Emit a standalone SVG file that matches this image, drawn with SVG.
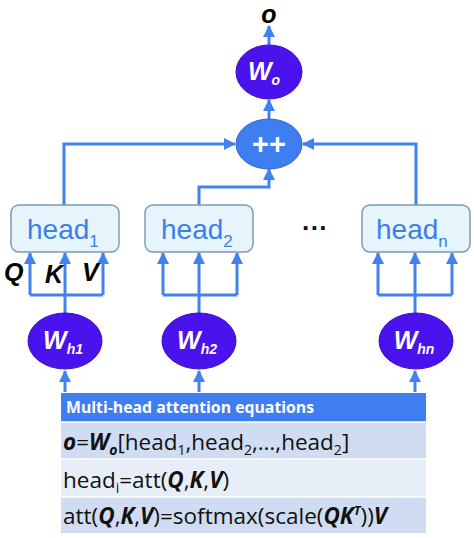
<svg xmlns="http://www.w3.org/2000/svg" width="474" height="538" viewBox="0 0 474 538">
<style>
.c{fill:none;stroke:#4282f0;stroke-width:3}
.hb{fill:#e6f4fb;stroke:#7f9bb0;stroke-width:1.5}
.ht{font-family:"Liberation Sans",Arial,sans-serif;font-size:28px;fill:#3d7fe6}
.hs{font-size:17px}
.pu{fill:#4a12ec;stroke:#3a10c0;stroke-width:1}
.bl{fill:#3f7ef0;stroke:#2d62c8;stroke-width:1}
.wt{font-family:"Liberation Sans",Arial,sans-serif;font-weight:bold;font-style:italic;fill:#fff}
.qkv{font-family:"Liberation Sans",Arial,sans-serif;font-weight:bold;font-style:italic;font-size:25px;fill:#000}
.tt{font-family:"Open Sans","Liberation Sans",sans-serif;font-size:22.5px;fill:#111}
.bi{font-weight:bold;font-style:italic}
</style>
<defs>
<marker id="a" markerUnits="userSpaceOnUse" markerWidth="12" markerHeight="12" viewBox="0 0 12 12" refX="11" refY="6" orient="auto">
<path d="M0,0 L12,6 L0,12 Z" fill="#4282f0"/>
</marker>
</defs>
<g id="connectors">
<path class="c" d="M269,45 V26" marker-end="url(#a)"/>
<path class="c" d="M269,119 V100" marker-end="url(#a)"/>
<path class="c" d="M64,205 V144 H235" marker-end="url(#a)"/>
<path class="c" d="M416,205 V144 H303" marker-end="url(#a)"/>
<path class="c" d="M199,205 V187 H269 V169" marker-end="url(#a)"/>
<path class="c" d="M65,313 V253" marker-end="url(#a)"/>
<path class="c" d="M30,295 H103"/>
<path class="c" d="M30,295 V253" marker-end="url(#a)"/>
<path class="c" d="M103,295 V253" marker-end="url(#a)"/>
<path class="c" d="M199,313 V253" marker-end="url(#a)"/>
<path class="c" d="M163,295 H237"/>
<path class="c" d="M163,295 V253" marker-end="url(#a)"/>
<path class="c" d="M237,295 V253" marker-end="url(#a)"/>
<path class="c" d="M415,313 V253" marker-end="url(#a)"/>
<path class="c" d="M378,295 H452"/>
<path class="c" d="M378,295 V253" marker-end="url(#a)"/>
<path class="c" d="M452,295 V253" marker-end="url(#a)"/>
<path class="c" d="M65,392 V371" marker-end="url(#a)"/>
<path class="c" d="M199,392 V371" marker-end="url(#a)"/>
<path class="c" d="M415,392 V371" marker-end="url(#a)"/>
</g>
<g id="output"><text x="269" y="23" text-anchor="middle" class="qkv" font-size="23">o</text></g>
<g id="Wo"><ellipse class="pu" cx="269" cy="72" rx="33" ry="27"/><text class="wt" x="264" y="80" text-anchor="middle" font-size="25">W<tspan font-size="14" dy="5">o</tspan></text></g>
<g id="concat"><ellipse class="bl" cx="269" cy="144" rx="33" ry="25"/><text x="269" y="154" text-anchor="middle" font-family="Liberation Sans,Arial,sans-serif" font-weight="bold" font-size="29" fill="#fff">++</text></g>
<g id="head1"><rect class="hb" x="11" y="205" width="108" height="47" rx="8"/><text class="ht" x="27" y="239">head<tspan class="hs" dy="8">1</tspan></text></g>
<g id="head2"><rect class="hb" x="145" y="205" width="108" height="47" rx="8"/><text class="ht" x="161" y="239">head<tspan class="hs" dy="8">2</tspan></text></g>
<g id="dots"><text x="315" y="237" text-anchor="middle" font-family="Liberation Sans,Arial,sans-serif" font-weight="bold" font-size="26" fill="#111">···</text></g>
<g id="headn"><rect class="hb" x="362" y="205" width="108" height="47" rx="8"/><text class="ht" x="376" y="239">head<tspan class="hs" dy="8">n</tspan></text></g>
<g id="qkv"><text class="qkv" x="4" y="281">Q</text><text class="qkv" x="45" y="283">K</text><text class="qkv" x="82" y="281">V</text></g>
<g id="Wh1"><ellipse class="pu" cx="65" cy="341" rx="37" ry="28"/><text class="wt" x="63" y="349" text-anchor="middle" font-size="25">W<tspan font-size="14" dy="5">h1</tspan></text></g>
<g id="Wh2"><ellipse class="pu" cx="199" cy="341" rx="37" ry="28"/><text class="wt" x="197" y="349" text-anchor="middle" font-size="25">W<tspan font-size="14" dy="5">h2</tspan></text></g>
<g id="Whn"><ellipse class="pu" cx="416" cy="341" rx="37" ry="28"/><text class="wt" x="414" y="349" text-anchor="middle" font-size="25">W<tspan font-size="14" dy="5">hn</tspan></text></g>
<g id="table">
<rect x="61" y="393" width="365" height="29" fill="#3f7ef0"/>
<rect x="61" y="422" width="365" height="37" fill="#cfdcf2"/>
<rect x="61" y="459" width="365" height="38" fill="#e8eef8"/>
<rect x="61" y="497" width="365" height="36" fill="#cfdcf2"/>
<line x1="61" y1="422" x2="426" y2="422" stroke="#fff" stroke-width="1.5"/>
<line x1="61" y1="459" x2="426" y2="459" stroke="#fff" stroke-width="1.5"/>
<line x1="61" y1="497" x2="426" y2="497" stroke="#fff" stroke-width="1.5"/>
<text x="66" y="413" font-family="Open Sans,Liberation Sans,sans-serif" font-weight="bold" font-size="15.8" fill="#fff">Multi-head attention equations</text>
<text class="tt" x="63" y="450"><tspan class="bi">o</tspan>=<tspan class="bi">W</tspan><tspan class="bi" font-size="14" dy="5">o</tspan><tspan dy="-5">[head</tspan><tspan font-size="14" dy="5">1</tspan><tspan dy="-5">,head</tspan><tspan font-size="14" dy="5">2</tspan><tspan dy="-5">,…,head</tspan><tspan font-size="14" dy="5">2</tspan><tspan dy="-5">]</tspan></text>
<text class="tt" x="63" y="488">head<tspan font-size="14" dy="5">i</tspan><tspan dy="-5">=att(</tspan><tspan class="bi">Q</tspan>,<tspan class="bi">K</tspan>,<tspan class="bi">V</tspan>)</text>
<text class="tt" x="63" y="524">att(<tspan class="bi">Q</tspan>,<tspan class="bi">K</tspan>,<tspan class="bi">V</tspan>)=softmax(scale(<tspan class="bi">QK</tspan><tspan class="bi" font-size="13" dy="-9">T</tspan><tspan dy="9">))</tspan><tspan class="bi">V</tspan></text>
</g>
</svg>
